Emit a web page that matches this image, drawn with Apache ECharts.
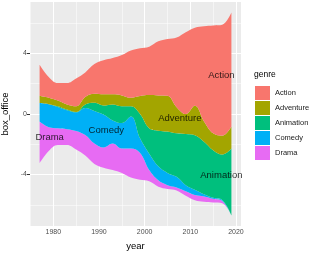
<!DOCTYPE html>
<html>
<head>
<meta charset="utf-8">
<script src="https://cdn.jsdelivr.net/npm/echarts@6/dist/echarts.min.js"></script>
<style>
html, body { margin: 0; padding: 0; background: #fff; }
#main { width: 320px; height: 256px; }
</style>
</head>
<body>
<div id="main"></div>
<script>
// box office by genre, streamgraph (mirror around 0)
var years = [1977, 1979, 1981, 1983, 1985, 1987, 1989, 1991, 1993, 1995, 1997,
             1999, 2001, 2003, 2005, 2007, 2009, 2011, 2013, 2015, 2017, 2019];
var action    = [2.05, 1.38, 1.16, 1.42, 1.84, 1.63, 1.97, 2.25, 2.40, 2.67, 3.13,
                 3.16, 3.20, 3.57, 3.75, 4.60, 5.40, 5.15, 6.29, 7.13, 7.33, 7.53];
var adventure = [0.48, 0.42, 0.38, 0.34, 0.38, 0.49, 0.59, 0.74, 0.67, 0.72, 0.56,
                 1.19, 2.19, 2.33, 2.36, 1.73, 1.32, 1.95, 1.34, 1.11, 1.25, 1.45];
var animation = [0.00, 0.00, 0.04, 0.04, 0.02, 0.23, 0.54, 0.60, 1.06, 1.11, 0.67,
                 1.61, 1.68, 2.35, 2.73, 2.87, 3.38, 3.60, 3.47, 3.14, 3.00, 4.42];
var comedy    = [1.22, 1.52, 1.41, 1.25, 1.23, 1.79, 2.15, 2.17, 1.52, 1.68, 2.12,
                 0.96, 1.08, 0.93, 0.81, 0.70, 0.40, 0.35, 0.15, 0.07, 0.07, 0.00];
var drama     = [2.75, 1.58, 1.11, 1.05, 1.23, 1.36, 1.35, 1.34, 1.75, 1.62, 1.92,
                 1.78, 0.75, 0.42, 0.25, 0.20, 0.30, 0.35, 0.35, 0.25, 0.15, 0.00];

var genres = ['Action', 'Adventure', 'Animation', 'Comedy', 'Drama'];
var colors = ['#F8766D', '#A3A500', '#00BF7D', '#00B0F6', '#E76BF3'];

var xTicks = [1980, 1990, 2000, 2010, 2020];
var yTicks = [-4, 0, 4];
var xMinor = [1975, 1985, 1995, 2005, 2015];
var yMinor = [-6, -2, 2, 6];

// in-plot labels
var labelNames = ['Action', 'Adventure', 'Comedy', 'Drama', 'Animation'];
var labelX = [2016.8, 2007.7, 1991.6, 1979.2, 2016.8];
var labelY = [2.52, -0.26, -1.06, -1.52, -4.04];

var FONT = 'Liberation Sans';

var byGenre = {
  Action: action, Adventure: adventure, Animation: animation,
  Comedy: comedy, Drama: drama
};

// value first, year second, so the stack runs on y
function pairs(arr) {
  return years.map(function (y, i) { return [arr[i], y]; });
}

// baseline = -total/2
var baseline = years.map(function (y, i) {
  var t = action[i] + adventure[i] + animation[i] + comedy[i] + drama[i];
  return -t / 2;
});

var gridLines = [];
xTicks.forEach(function (v) { gridLines.push({ xAxis: v }); });
yTicks.forEach(function (v) { gridLines.push({ yAxis: v }); });
xMinor.forEach(function (v) { gridLines.push({ xAxis: v, lineStyle: { width: 0.5 } }); });
yMinor.forEach(function (v) { gridLines.push({ yAxis: v, lineStyle: { width: 0.5 } }); });

var series = [{
  name: 'base',
  type: 'line',
  stack: 'stream',
  stackStrategy: 'all',
  encode: { x: 1, y: 0 },
  smooth: 0.4,
  showSymbol: false,
  lineStyle: { width: 0, opacity: 0 },
  data: pairs(baseline),
  z: 1,
  markLine: {
    silent: true,
    z: 1,
    symbol: ['none', 'none'],
    label: { show: false },
    lineStyle: { color: '#ffffff', type: 'solid', width: 1 },
    data: gridLines
  }
}];

// stack bottom to top
['Drama', 'Comedy', 'Animation', 'Adventure', 'Action'].forEach(function (g) {
  var c = colors[genres.indexOf(g)];
  series.push({
    name: g,
    type: 'line',
    stack: 'stream',
    stackStrategy: 'all',
    encode: { x: 1, y: 0 },
    smooth: 0.4,
    showSymbol: false,
    lineStyle: { width: 0 },
    itemStyle: { color: c },
    areaStyle: { color: c, opacity: 1 },
    data: pairs(byGenre[g]),
    z: 2
  });
});

series.push({
  name: 'labels',
  type: 'scatter',
  symbolSize: 0,
  z: 5,
  data: labelX.map(function (x, i) { return [x, labelY[i], labelNames[i]]; }),
  label: {
    show: true,
    position: 'inside',
    formatter: function (p) { return p.value[2]; },
    fontFamily: FONT,
    fontSize: 9.5,
    color: '#000000'
  }
});

var chart = echarts.init(document.getElementById('main'));
chart.setOption({
  animation: false,
  title: {
    text: 'genre',
    left: 254,
    top: 70,
    padding: 0,
    textStyle: { fontFamily: FONT, fontSize: 8.5, fontWeight: 'normal', color: '#000' }
  },
  legend: {
    data: genres,
    orient: 'vertical',
    left: 255,
    top: 86,
    padding: 0,
    itemWidth: 15,
    itemHeight: 14,
    itemGap: 1,
    icon: 'rect',
    selectedMode: false,
    textStyle: { fontFamily: FONT, fontSize: 7.5, color: '#1a1a1a' }
  },
  grid: {
    left: 30, right: 79, top: 2, bottom: 30,
    outerBoundsMode: 'none',
    show: true, backgroundColor: '#EBEBEB', borderWidth: 0
  },
  xAxis: {
    type: 'value',
    min: 1974.9,
    max: 2021.1,
    name: 'year',
    nameLocation: 'middle',
    nameGap: 15,
    nameTextStyle: { fontFamily: FONT, fontSize: 9.5, color: '#000' },
    axisLine: { show: false },
    axisTick: { show: true, customValues: xTicks, length: 3, lineStyle: { color: '#333' } },
    axisLabel: {
      customValues: xTicks,
      formatter: function (v) { return String(v); },
      fontFamily: FONT, fontSize: 7, color: '#4D4D4D', margin: 3
    },
    splitLine: { show: false }
  },
  yAxis: {
    type: 'value',
    min: -7.4,
    max: 7.4,
    name: 'box_office',
    nameLocation: 'middle',
    nameRotate: 90,
    nameGap: 18,
    nameTextStyle: { fontFamily: FONT, fontSize: 9.5, color: '#000' },
    axisLine: { show: false },
    axisTick: { show: true, customValues: yTicks, length: 3, lineStyle: { color: '#333' } },
    axisLabel: { customValues: yTicks, fontFamily: FONT, fontSize: 7, color: '#4D4D4D', margin: 3 },
    splitLine: { show: false }
  },
  series: series
});
</script>
</body>
</html>
